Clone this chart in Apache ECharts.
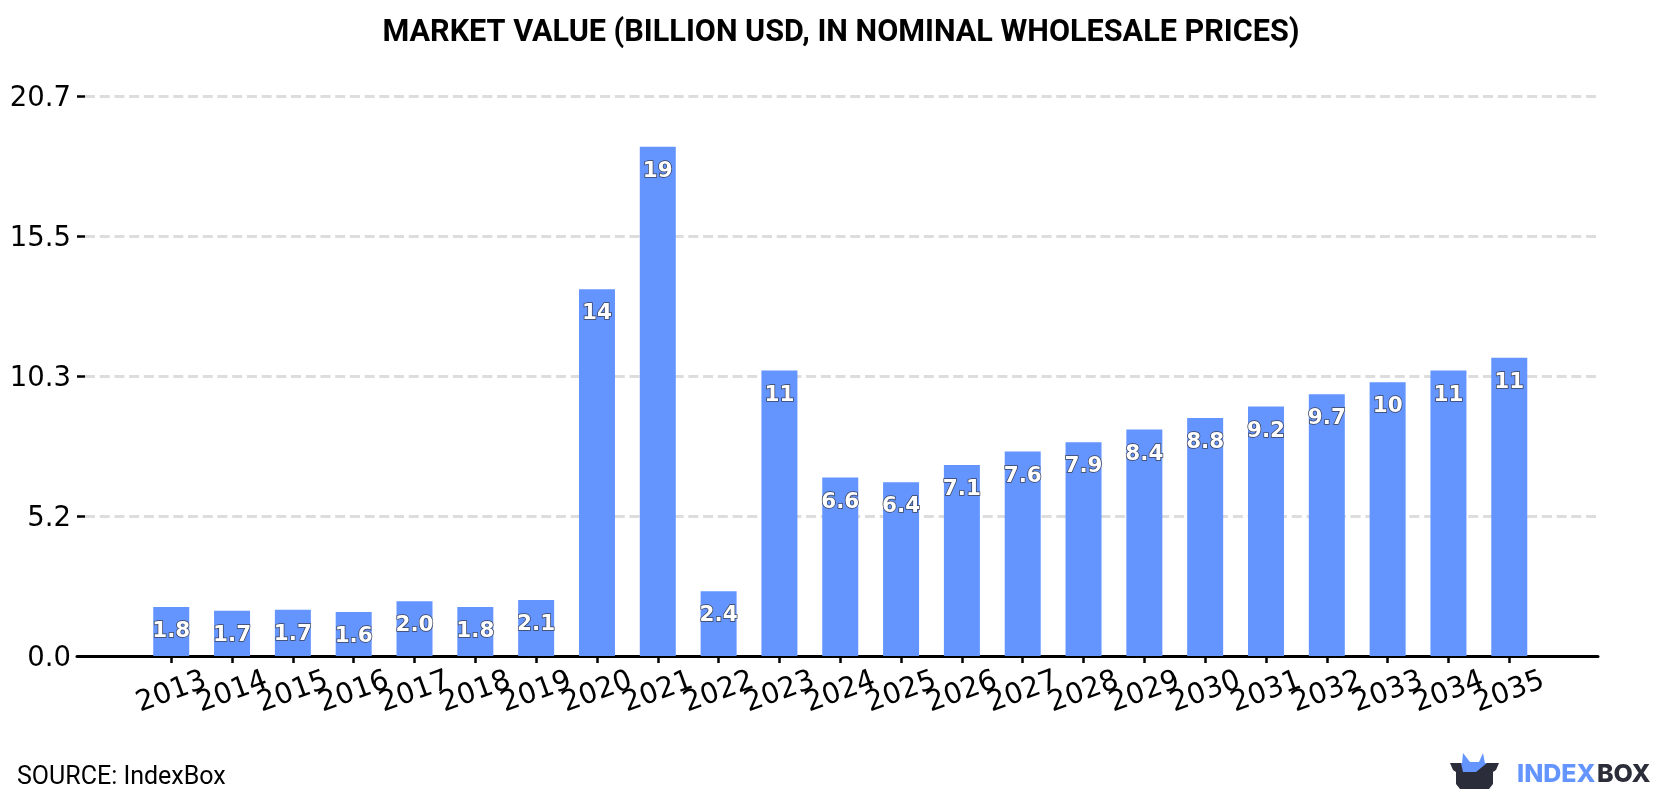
<!DOCTYPE html>
<html>
<head>
<meta charset="utf-8">
<style>html,body{margin:0;padding:0;background:#fff}#chart{width:1680px;height:800px}</style>
<script src="https://cdn.jsdelivr.net/npm/echarts@6/dist/echarts.min.js"></script>
</head>
<body>
<div id="chart"></div>
<script>
const chartTitle = 'MARKET VALUE (BILLION USD, IN NOMINAL WHOLESALE PRICES)';
const sourceText = 'SOURCE: IndexBox';
const years = ['2013','2014','2015','2016','2017','2018','2019','2020','2021','2022','2023','2024','2025','2026','2027','2028','2029','2030','2031','2032','2033','2034','2035'];
const marketValue = [1.81,1.67,1.71,1.63,2.02,1.81,2.07,13.56,18.82,2.39,10.55,6.60,6.42,7.06,7.56,7.90,8.37,8.80,9.22,9.68,10.12,10.55,11.02];
const yTickLabels = ['0.0','5.2','10.3','15.5','20.7'];
const yMax = 20.7;
const yStep = yMax / 4;

const BLUE = '#6495ff';
const DARK = '#2b2d3a';

// Blank slots on both ends leave room before the first and after the last bar.
const categories = ['', ...years, ''];
const seriesData = [null, ...marketValue, null];

function valueLabel(v) {
  return v >= 10 ? String(Math.round(v)) : v.toFixed(1);
}

const chart = echarts.init(document.getElementById('chart'));
chart.setOption({
  animation: false,
  backgroundColor: '#fff',
  title: {
    text: chartTitle,
    left: 836,
    top: 13,
    textAlign: 'center',
    textStyle: { fontFamily: 'Roboto', fontWeight: 'bold', fontSize: 30.6, color: '#000' }
  },
  // Grid 0 carries the frame (gridlines, value ticks, baseline); grid 1 carries the bars.
  grid: [
    { left: 77, right: 82, top: 96, bottom: 144 },
    { left: 80, right: 79.5, top: 96, bottom: 144 }
  ],
  xAxis: [
    {
      gridIndex: 0,
      type: 'value',
      min: 0,
      max: 1,
      axisLine: { show: true, lineStyle: { color: '#000', width: 3 } },
      axisTick: { show: false },
      axisLabel: { show: false },
      splitLine: { show: false }
    },
    {
      gridIndex: 1,
      type: 'category',
      data: categories,
      axisLine: { show: false },
      axisTick: {
        show: true,
        alignWithLabel: true,
        length: 7,
        interval: (i, v) => v !== '',
        lineStyle: { color: '#000', width: 2.5 }
      },
      axisLabel: {
        interval: 0,
        rotate: 20,
        margin: 21,
        padding: [0, 10, 0, 0],
        fontFamily: 'DejaVu Sans',
        fontSize: 28.5,
        color: '#000',
        align: 'center',
        verticalAlign: 'top'
      }
    }
  ],
  yAxis: [
    {
      gridIndex: 0,
      type: 'value',
      min: 0,
      max: yMax,
      interval: yStep,
      axisLine: { show: false },
      axisTick: { show: true, inside: true, length: 8, lineStyle: { color: '#000', width: 2.5 } },
      axisLabel: {
        margin: 6,
        formatter: (v) => '{tick|' + yTickLabels[Math.round(v / yStep)] + '}',
        rich: {
          tick: {
            fontFamily: 'DejaVu Sans',
            fontSize: 27.5,
            color: '#000',
            padding: [5, 0, 0, 0]
          }
        }
      },
      splitLine: { lineStyle: { color: '#dddddd', width: 3, type: [10, 4.716], dashOffset: 6.7 } }
    },
    {
      gridIndex: 1,
      type: 'value',
      min: 0,
      max: yMax,
      interval: yStep,
      axisLine: { show: false },
      axisTick: { show: false },
      axisLabel: { show: false },
      splitLine: { show: false }
    }
  ],
  series: [{
    type: 'bar',
    xAxisIndex: 1,
    yAxisIndex: 1,
    data: seriesData,
    barWidth: 36,
    itemStyle: { color: BLUE },
    label: {
      show: true,
      position: 'insideTop',
      distance: 13.5,
      fontFamily: 'DejaVu Sans',
      fontWeight: 'bold',
      fontSize: 21.5,
      color: '#fff',
      textBorderColor: '#3a3f55',
      textBorderWidth: 1.5,
      formatter: (p) => valueLabel(p.value)
    }
  }],
  graphic: [
    {
      type: 'text', left: 17, top: 765,
      style: { text: sourceText, fontFamily: 'Roboto', fontSize: 25, fill: '#000' }
    },
    // Brand mark: blue crown rising out of a dark box
    {
      type: 'polygon',
      shape: { points: [[1461,774],[1463,753],[1470,762],[1479,762],[1483,753],[1487,774]] },
      style: { fill: BLUE }
    },
    {
      type: 'polygon',
      shape: { points: [[1450,763],[1499,763],[1496,770],[1493,772],[1493,784],[1489,789],[1460,789],[1456,784],[1456,772],[1453,770]] },
      style: { fill: DARK }
    },
    {
      type: 'polygon',
      shape: { points: [[1461,763],[1487,763],[1476,772],[1463,772]] },
      style: { fill: BLUE }
    },
    {
      type: 'text', left: 1517, top: 762,
      style: { text: 'INDEX', fontFamily: 'Inter', fontWeight: 800, fontSize: 25, fill: BLUE }
    },
    {
      type: 'text', left: 1597, top: 762,
      style: { text: 'BOX', fontFamily: 'Inter', fontWeight: 800, fontSize: 25, fill: DARK }
    }
  ]
});
</script>
</body>
</html>
